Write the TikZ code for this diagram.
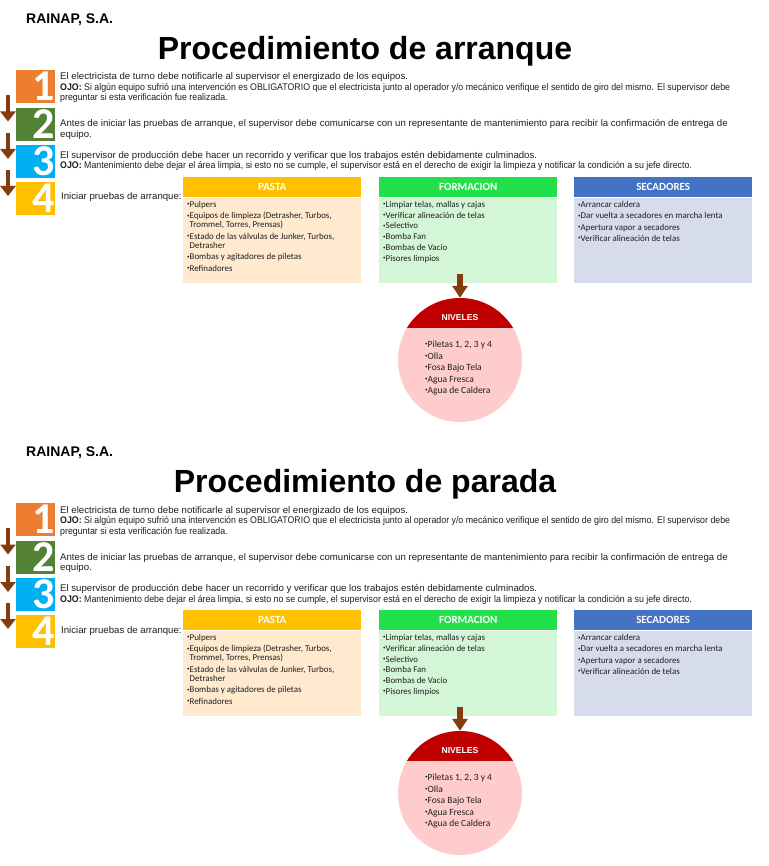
\documentclass[tikz,border=0pt]{standalone}
\usepackage{fontspec}
\setmainfont{Liberation Sans}
\newfontfamily\calibri{Carlito}
\newfontfamily\angosta[FakeStretch=0.915]{Liberation Sans}
\usepackage{tikz}
\usetikzlibrary{positioning}
\usetikzlibrary{arrows.meta}
\usetikzlibrary{calc}

\definecolor{naranja}{HTML}{ED7D31}
\definecolor{verdeoscuro}{HTML}{548235}
\definecolor{celeste}{HTML}{00B0F0}
\definecolor{amarillo}{HTML}{FFC000}
\definecolor{cafe}{HTML}{843C0C}
\definecolor{durazno}{HTML}{FFE9CF}
\definecolor{verdeclaro}{HTML}{22E04A}
\definecolor{menta}{HTML}{D3F6D6}
\definecolor{azul}{HTML}{4472C4}
\definecolor{lavanda}{HTML}{D6DCEC}
\definecolor{rojo}{HTML}{C00000}
\definecolor{rosa}{HTML}{FFCCCC}
\definecolor{tinta}{HTML}{1E1E1E}

\newcommand{\vin}{\raisebox{.35ex}{\fontsize{5}{5}\selectfont •}}

\begin{document}
\begin{tikzpicture}[x=1pt, y=-1pt,
    empresa/.style={anchor=base west, inner sep=0, font=\bfseries\fontsize{14}{14}\selectfont},
    titulo/.style={anchor=base, inner sep=0, font=\bfseries\fontsize{32}{32}\selectfont},
    paso/.style={anchor=north west, minimum width=39pt, minimum height=33pt, inner sep=0,
        text width=39pt, align=right, text=white, font=\calibri\bfseries\fontsize{44}{44}\selectfont},
    texto/.style={anchor=base west, inner sep=0, align=left, text=tinta, font=\fontsize{9.63}{10.5}\selectfont},
    cabecera/.style={anchor=north west, minimum width=178pt, minimum height=20pt, inner sep=0,
        text=white, font=\calibri\bfseries\fontsize{11}{11}\selectfont},
    cuerpo/.style={minimum width=178pt, minimum height=85pt, inner sep=0},
    lista/.style={anchor=base west, inner sep=0, align=left, text=tinta, font=\calibri\fontsize{8.9}{9}\selectfont},
    circulo/.style={circle, minimum size=124pt, inner sep=0, fill=rosa,
        path picture={\fill[rojo] (path picture bounding box.north west) rectangle
            ([yshift=-30pt]path picture bounding box.north east);}},
    flecha/.style={draw=cafe, line width=4pt, -{Triangle[width=15pt,length=10pt]}},
    flechagrande/.style={draw=cafe, line width=6pt, -{Triangle[width=15pt,length=12pt]}}]

    \useasboundingbox (0,0) rectangle (768,866);

    % two sheets: arranque on top, parada below
    % (multi-line nodes are placed by the baseline of their last line)
    \foreach \dy/\proc in {0/arranque, 433/parada} {

    \node[empresa] (empresa) at (26, 23.5+\dy) {RAINAP, S.A.};
    \node[titulo] (titulo) at (365, 59.5+\dy) {Procedimiento de \proc};

    % numbered steps
    \foreach \n/\col/\y in {1/naranja/70, 2/verdeoscuro/107.5, 3/celeste/145, 4/amarillo/182}
        \node[paso, fill=\col] (p\n) at (16, \y+\dy) {\n};

    \foreach \a/\b in {1/2, 2/3, 3/4}
        \draw[flecha] ([xshift=-8pt,yshift=8pt]p\a.south west) -- ([xshift=-8pt,yshift=-14pt]p\b.north west);

    \node[texto] (t1) at (60, 101+\dy) {El electricista de turno debe notificarle al supervisor el energizado de los equipos.\\
        {\angosta\textbf{OJO:} Si algún equipo sufrió una intervención es OBLIGATORIO que el electricista junto al operador y/o mecánico verifique el sentido de giro del mismo. El supervisor debe}\\
        {\angosta preguntar si esta verificación fue realizada.}};
    \node[texto] (t2) at (60, 137.5+\dy) {Antes de iniciar las pruebas de arranque, el supervisor debe comunicarse con un representante de mantenimiento para recibir la confirmación de entrega de\\
        equipo.};
    \node[texto] (t3) at (60, 169+\dy) {El supervisor de producción debe hacer un recorrido y verificar que los trabajos estén debidamente culminados.\\
        {\angosta\textbf{OJO:} Mantenimiento debe dejar el área limpia, si esto no se cumple, el supervisor está en el derecho de exigir la limpieza y notificar la condición a su jefe directo.}};
    \node[texto] (t4) at (61, 200+\dy) {Iniciar pruebas de arranque:};

    % areas
    \foreach \x/\nom/\cab/\cue in {183/PASTA/amarillo/durazno, 379/FORMACION/verdeclaro/menta, 574/SECADORES/azul/lavanda} {
        \node[cabecera, fill=\cab] (h\nom) at (\x, 177+\dy) {\nom};
        \node[cuerpo, fill=\cue, below=0pt of h\nom] (c\nom) {};
    }

    \node[lista] (lPASTA) at ([xshift=4pt,yshift=-74pt]cPASTA.north west) {\vin Pulpers\\[2.5pt]
        \vin Equipos de limpieza (Detrasher, Turbos,\\
        \phantom{\vin}Trommel, Torres, Prensas)\\[2.5pt]
        \vin Estado de las válvulas de Junker, Turbos,\\
        \phantom{\vin}Detrasher\\[2.5pt]
        \vin Bombas y agitadores de piletas\\[2.5pt]
        \vin Refinadores};
    \node[lista] (lFORMACION) at ([xshift=4pt,yshift=-64pt]cFORMACION.north west) {\vin Limpiar telas, mallas y cajas\\[1.8pt]
        \vin Verificar alineación de telas\\[1.8pt]
        \vin Selectivo\\[1.8pt]
        \vin Bomba Fan\\[1.8pt]
        \vin Bombas de Vacío\\[1.8pt]
        \vin Pisores limpios};
    \node[lista] (lSECADORES) at ([xshift=4pt,yshift=-44pt]cSECADORES.north west) {\vin Arrancar caldera\\[2.3pt]
        \vin Dar vuelta a secadores en marcha lenta\\[2.3pt]
        \vin Apertura vapor a secadores\\[2.3pt]
        \vin Verificar alineación de telas};

    % niveles
    \node[circulo] (niveles) at (460, 360+\dy) {};
    \node[text=white, inner sep=0, font=\bfseries\fontsize{8.6}{8.6}\selectfont] (tniveles) at (460, 318+\dy) {NIVELES};
    \node[lista, font=\calibri\fontsize{9.5}{11.5}\selectfont] (lniveles) at (425, 393.5+\dy) {\vin Piletas 1, 2, 3 y 4\\
        \vin Olla\\
        \vin Fosa Bajo Tela\\
        \vin Agua Fresca\\
        \vin Agua de Caldera};

    \coordinate (baja) at (cFORMACION.south -| niveles.north);
    \draw[flechagrande] ([yshift=9pt]baja) -- (niveles.north);
    }

\end{tikzpicture}
\end{document}
